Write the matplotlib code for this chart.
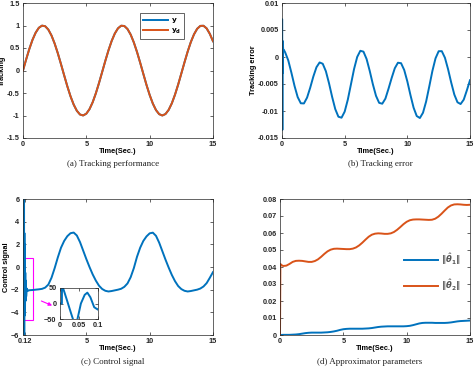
import numpy as np
import matplotlib
matplotlib.use('Agg')
import matplotlib.pyplot as plt
from matplotlib.patches import Rectangle

plt.rcParams['font.family'] = ['Liberation Sans', 'DejaVu Sans']
plt.rcParams['font.weight'] = 'bold'
plt.rcParams['axes.linewidth'] = 0.5
plt.rcParams['axes.edgecolor'] = '#262626'

BLUE = '#0072BD'
ORANGE = '#D95319'

# ---------------- data ----------------
t_grid = np.arange(0, 15.001, 0.25)

# (a) tracking output y and reference y_d
y_out = [0.0, 0.247, 0.479, 0.682, 0.841, 0.949, 0.997, 0.984, 0.909, 0.778,
         0.598, 0.382, 0.141, -0.108, -0.351, -0.572, -0.757, -0.895, -0.978, -0.999,
         -0.959, -0.859, -0.706, -0.508, -0.279, -0.033, 0.215, 0.450, 0.657, 0.823,
         0.938, 0.995, 0.989, 0.922, 0.798, 0.624, 0.412, 0.174, -0.075, -0.321,
         -0.544, -0.735, -0.880, -0.970, -1.000, -0.967, -0.875, -0.729, -0.537, -0.312,
         -0.066, 0.182, 0.420, 0.632, 0.804, 0.927, 0.991, 0.994, 0.935, 0.814, 0.650]
y_ref = list(y_out)

# (b) tracking error
t_err_start = [0.0, 0.01, 0.02, 0.03, 0.04, 0.06, 0.08, 0.1, 0.15]
err_start = [0.0, 0.007, -0.0005, -0.0135, 0.003, -0.003, 0.002, 0.0012, 0.0013]
err_main = [0.00087, -0.00063, -0.00291, -0.00536, -0.00742, -0.00857, -0.00860, -0.00752,
            -0.00569, -0.00362, -0.00189, -0.00101, -0.00125, -0.00263, -0.00485, -0.00739,
            -0.00965, -0.01106, -0.01124, -0.01012, -0.00791, -0.00507, -0.00222, 0.00001,
            0.00115, 0.00099, -0.00038, -0.00258, -0.00505, -0.00719, -0.00849, -0.00865,
            -0.00771, -0.00586, -0.00388, -0.00208, -0.00106, -0.00115, -0.00240, -0.00452,
            -0.00706, -0.00939, -0.01093, -0.01130, -0.01032, -0.00824, -0.00546, -0.00258,
            -0.00024, 0.00107, 0.00108, -0.00014, -0.00226, -0.00473, -0.00696, -0.00838,
            -0.00871, -0.00790, -0.00617, -0.00430]
t_err = np.concatenate([t_err_start, t_grid[1:]])
err = np.concatenate([err_start, err_main])

# (c) control signal
t_u_start = [0.0, 0.005, 0.0055, 0.0065, 0.008, 0.012, 0.02, 0.03, 0.034, 0.04,
             0.046, 0.055, 0.065, 0.072, 0.08, 0.09, 0.1, 0.11, 0.12, 0.13,
             0.14, 0.15, 0.16, 0.18, 0.2, 0.22, 0.25, 0.3, 0.4]
u_start = [0, 0, 150, 150, 50, 35, 4, -35, -50, -75,
           -50, 0, 28, 35, 20, -12, -20, 3.0, -4.3, 2.0,
           -4.0, 0.5, -3.5, -0.5, -3.0, -1.2, -2.6, -1.9, -2.1]
u_main = [-2.05, -2.03, -2.0, -1.97, -1.93, -1.82, -1.55, -0.95, -0.1, 0.85,
          1.7, 2.3, 2.72, 2.98, 3.04, 2.78, 2.2, 1.45, 0.7, 0.0,
          -0.65, -1.2, -1.65, -1.94, -2.1, -2.16, -2.12, -2.06, -2.0, -1.92,
          -1.75, -1.45, -0.9, -0.1, 0.9, 1.7, 2.3, 2.7, 2.97, 3.03,
          2.75, 2.15, 1.4, 0.65, -0.05, -0.7, -1.25, -1.68, -1.95, -2.1,
          -2.16, -2.12, -2.06, -2.0, -1.9, -1.72, -1.42, -0.95, -0.45]
t_u = np.concatenate([t_u_start, t_grid[2:]])
u = np.concatenate([u_start, u_main])

# (d) approximator parameter norms
theta1 = [0.0, 0.0001, 0.0001, 0.0001, 0.0002, 0.0003, 0.0005, 0.0008, 0.0011, 0.0013,
          0.0014, 0.0014, 0.0014, 0.0014, 0.0015, 0.0016, 0.0018, 0.0021, 0.0025, 0.0030,
          0.0034, 0.0036, 0.0037, 0.0037, 0.0037, 0.0037, 0.0037, 0.0038, 0.0039, 0.0041,
          0.0044, 0.0047, 0.0049, 0.0050, 0.0051, 0.0051, 0.0051, 0.0051, 0.0051, 0.0051,
          0.0052, 0.0054, 0.0058, 0.0063, 0.0068, 0.0071, 0.0072, 0.0072, 0.0072, 0.0071,
          0.0071, 0.0071, 0.0071, 0.0072, 0.0074, 0.0077, 0.0080, 0.0082, 0.0083, 0.0084,
          0.0085]
t_th2_start = [0.0, 0.03, 0.1]
theta2_start = [0.0, 0.0418, 0.0412]
theta2_main = [0.0406, 0.0408, 0.0418, 0.0430, 0.0436, 0.0437, 0.0436, 0.0433, 0.0430,
               0.0430, 0.0435, 0.0445, 0.0460, 0.0477, 0.0492, 0.0502, 0.0507, 0.0508, 0.0507,
               0.0506, 0.0505, 0.0505, 0.0508, 0.0515, 0.0527, 0.0543, 0.0561, 0.0578, 0.0590,
               0.0596, 0.0598, 0.0597, 0.0595, 0.0595, 0.0598, 0.0606, 0.0619, 0.0635, 0.0652,
               0.0666, 0.0675, 0.0679, 0.0680, 0.0680, 0.0679, 0.0678, 0.0677, 0.0678, 0.0684,
               0.0696, 0.0713, 0.0732, 0.0750, 0.0762, 0.0768, 0.0769, 0.0768, 0.0766, 0.0765,
               0.0766]
t_th2 = np.concatenate([t_th2_start, t_grid[1:]])
theta2 = np.concatenate([theta2_start, theta2_main])

x_ticks = [0, 5, 10, 15]
a_yticks = [-1.5, -1, -0.5, 0, 0.5, 1, 1.5]
a_ylabels = ['-1.5', '-1', '-0.5', '0', '0.5', '1', '1.5']
b_yticks = [-0.015, -0.01, -0.005, 0, 0.005, 0.01]
b_ylabels = ['-0.015', '-0.01', '-0.005', '0', '0.005', '0.01']
c_xticks = [0.12, 5, 10, 15]
c_xlabels = ['0.12', '5', '10', '15']
c_yticks = [-6, -4, -2, 0, 2, 4, 6]
d_yticks = [0, 0.01, 0.02, 0.03, 0.04, 0.05, 0.06, 0.07, 0.08]
d_ylabels = ['0', '0.01', '0.02', '0.03', '0.04', '0.05', '0.06', '0.07', '0.08']
ins_xticks = [0, 0.05, 0.1]
ins_xlabels = ['0', '0.05', '0.1']
ins_yticks = [-50, 0, 50]

# ---------------- figure ----------------
W, H = 474, 368
fig = plt.figure(figsize=(W / 100, H / 100), dpi=100)


def px_axes(l, t, r, b):
    return fig.add_axes([l / W, 1 - b / H, (r - l) / W, (b - t) / H])


FS = 5.3


def style(ax):
    ax.tick_params(direction='in', top=True, right=True, length=2.5, width=0.5,
                   labelsize=FS, pad=2.5, colors='#262626')
    for lab in ax.get_xticklabels() + ax.get_yticklabels():
        lab.set_fontweight('bold')


LW = 1.4

# (a)
axa = px_axes(23, 3, 213, 138)
axa.plot(t_grid, y_out, color=BLUE, lw=LW, label=r'$\mathbf{y}$')
axa.plot(t_grid, y_ref, color=ORANGE, lw=LW, label=r'$\mathbf{y_d}$')
axa.set_xlim(0, 15)
axa.set_ylim(-1.5, 1.5)
axa.set_xticks(x_ticks)
axa.set_yticks(a_yticks)
axa.set_yticklabels(a_ylabels)
style(axa)
axa.set_xlabel('Time(Sec.)', fontsize=FS, fontweight='bold')
axa.xaxis.set_label_coords(0.5, -0.075)
axa.set_ylabel('Tracking', fontsize=FS, fontweight='bold')
axa.yaxis.set_label_coords(-0.088, 0.5)
leg = axa.legend(loc='upper left', bbox_to_anchor=(0.616, 0.926), borderaxespad=0,
                 fontsize=FS, handlelength=3.3, handletextpad=0.4, labelspacing=0.15,
                 borderpad=0.45, fancybox=False, framealpha=1)
leg.get_frame().set_linewidth(0.5)
leg.get_frame().set_edgecolor('#262626')

# (b)
axb = px_axes(282, 3, 470, 138)
axb.plot(t_err, err, color=BLUE, lw=LW)
axb.set_xlim(0, 15)
axb.set_ylim(-0.015, 0.01)
axb.set_xticks(x_ticks)
axb.set_yticks(b_yticks)
axb.set_yticklabels(b_ylabels)
style(axb)
axb.set_xlabel('Time(Sec.)', fontsize=FS, fontweight='bold')
axb.xaxis.set_label_coords(0.5, -0.075)
axb.set_ylabel('Tracking error', fontsize=FS, fontweight='bold')
axb.yaxis.set_label_coords(-0.135, 0.5)

# (c)
axc = px_axes(23, 199, 213, 335)
axc.plot(t_u, u, color=BLUE, lw=LW)
axc.set_xlim(0, 15)
axc.set_ylim(-6, 6)
axc.set_xticks(c_xticks)
axc.set_xticklabels(c_xlabels)
axc.set_yticks(c_yticks)
style(axc)
axc.set_xlabel('Time(Sec.)', fontsize=FS, fontweight='bold')
axc.xaxis.set_label_coords(0.5, -0.075)
axc.set_ylabel('Control signal', fontsize=FS, fontweight='bold')
axc.yaxis.set_label_coords(-0.067, 0.5)
axc.add_patch(Rectangle((0.03, -4.7), 0.72, 5.5, fill=False, edgecolor='#FF00FF', lw=0.8))
axc.annotate('', xy=(2.3, -3.4), xytext=(1.45, -3.0),
             arrowprops=dict(arrowstyle='-|>', color='#FF00FF', lw=0.8,
                             mutation_scale=5, shrinkA=0, shrinkB=0))

ins = px_axes(60, 288, 98, 319)
ins.plot(t_u, u, color=BLUE, lw=LW)
ins.set_xlim(0, 0.1)
ins.set_ylim(-50, 50)
ins.set_xticks(ins_xticks)
ins.set_xticklabels(ins_xlabels)
ins.set_yticks(ins_yticks)
style(ins)

# (d)
axd = px_axes(280, 199, 470, 335)
axd.plot(t_grid, theta1, color=BLUE, lw=LW, label=r'$\|\hat{\theta}_1\|$')
axd.plot(t_th2, theta2, color=ORANGE, lw=LW, label=r'$\|\hat{\theta}_2\|$')
axd.set_xlim(0, 15)
axd.set_ylim(0, 0.08)
axd.set_xticks(x_ticks)
axd.set_yticks(d_yticks)
axd.set_yticklabels(d_ylabels)
style(axd)
axd.set_xlabel('Time(Sec.)', fontsize=FS, fontweight='bold')
axd.xaxis.set_label_coords(0.5, -0.075)
legd = axd.legend(loc='center left', bbox_to_anchor=(0.654, 0.46), borderaxespad=0,
                  borderpad=0, frameon=False, fontsize=6, handlelength=4.0,
                  handletextpad=0.4, labelspacing=1.3)
for txt in legd.get_texts():
    txt.set_color('#555555')

# captions
cap = dict(family='Liberation Serif', fontweight='normal', fontsize=6.5, ha='center',
           va='center', color='#222222')
fig.text(113 / W, 1 - 164 / H, '(a) Tracking performance', **cap)
fig.text(380 / W, 1 - 164 / H, '(b) Tracking error', **cap)
fig.text(113 / W, 1 - 362 / H, '(c) Control signal', **cap)
fig.text(370 / W, 1 - 362 / H, '(d) Approximator parameters', **cap)

fig.savefig('out.png', dpi=100)
